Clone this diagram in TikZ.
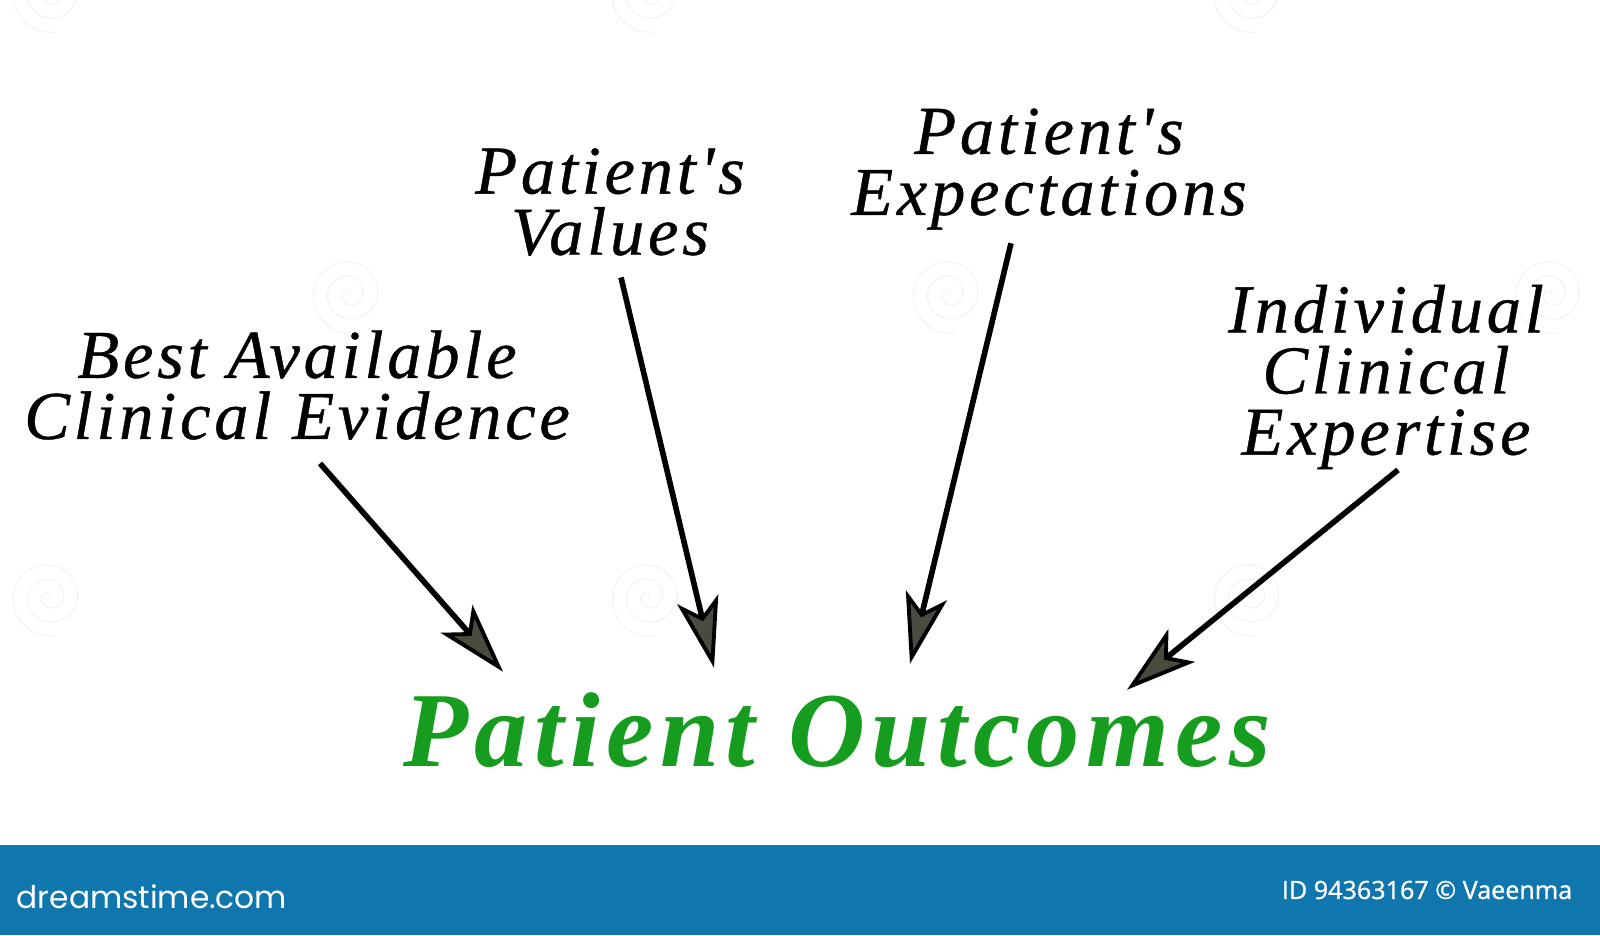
\documentclass[tikz,border=0pt]{standalone}
\usepackage{fontspec}
\setmainfont{Liberation Serif}
\newfontfamily\handfont[LetterSpace=5.5, FakeBold=0.6]{Liberation Serif}
\newfontfamily\titlefont[LetterSpace=6]{Liberation Serif}
\newfontfamily\barfont[FakeBold=1]{Open Sans}
\newfontfamily\logofont{Poppins}
\usetikzlibrary{arrows.meta}
\definecolor{barblue}{HTML}{1077AE}
\definecolor{outcomegreen}{HTML}{169C1E}
\definecolor{headgrey}{HTML}{4A4A3E}
\tikzset{
    cause/.style={align=center, inner sep=0pt, font=\handfont\fontsize{19.5}{17.4}\selectfont\itshape},
    outcome/.style={inner sep=0pt, text=outcomegreen, font=\titlefont\fontsize{30.3}{36}\selectfont\itshape\bfseries},
    pointer/.style={black, line width=1.6pt, -{Stealth[length=20pt, width=12pt, inset=5pt, fill=headgrey, line width=1.1pt]}},
    stamp spiral/.style={black!5, line width=0.3pt},
}
\begin{document}
\begin{tikzpicture}
            \useasboundingbox (0.0, 0.0) rectangle (16.0, 9.35);
            \foreach \px/\py in {0.49/3.38, 6.48/3.38, 12.5/3.38, 3.49/6.41, 9.49/6.41, 15.51/6.41, 0.49/9.42, 6.48/9.42, 12.5/9.42} {
                \draw [stamp spiral] plot [domain=0:1000, samples=70, smooth] ({\px + 0.0004*\x*cos(\x)}, {\py + 0.0004*\x*sin(\x)});
            }
            \fill [barblue] (0.0, 0.0) rectangle (16.0, 0.9);
            \draw (2.97, 5.5) node [cause] (evidence) {Best Available\\Clinical Evidence};
            \draw (6.1, 7.33) node [cause] (values) {Patient's\\Values};
            \draw (10.49, 7.66) node [cause] (expectations) {Patient's\\Expectations};
            \draw (13.86, 5.58) node [cause] (expertise) {Individual\\Clinical\\Expertise};
            \draw (8.37, 2.05) node [outcome] (outcomes) {Patient Outcomes};
            \draw [pointer] ([shift={(0.23, -0.23)}]evidence.south) -- ([shift={(-3.34, 0.20)}]outcomes.north);
            \draw [pointer] ([shift={(0.11, -0.21)}]values.south) -- ([shift={(-1.23, 0.24)}]outcomes.north);
            \draw [pointer] ([shift={(-0.38, -0.13)}]expectations.south) -- ([shift={(0.73, 0.28)}]outcomes.north);
            \draw [pointer] ([shift={(0.12, 0.0)}]expertise.south) -- ([shift={(2.90, 0.02)}]outcomes.north);
            \draw (1.52, 0.27) node [anchor=base, inner sep=0pt, white, font=\logofont\fontsize{8.9}{11}\selectfont] (logo) {dreamstime.com};
            \draw (14.27, 0.45) node [inner sep=0pt, white, font=\barfont\fontsize{7.15}{9}\selectfont] (credit) {ID 94363167 © Vaeenma};
\end{tikzpicture}
\end{document}
